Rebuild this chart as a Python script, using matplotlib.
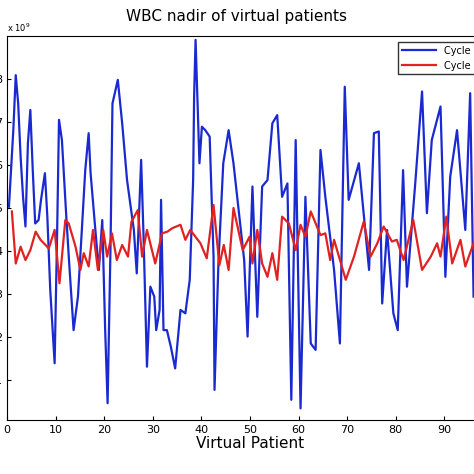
import matplotlib
matplotlib.use("Agg")
import matplotlib.pyplot as plt

blue_x = [0.4,1.3,1.8,2.3,2.8,3.3,3.8,4.3,4.8,5.3,5.8,6.5,7.0,7.8,8.3,8.9,9.8,10.3,10.7,11.3,12.2,12.8,13.7,14.6,15.4,16.1,16.8,17.2,18.3,18.9,19.6,20.2,20.7,21.3,21.7,22.8,23.7,24.7,26.1,26.7,27.6,28.1,
          28.8,29.5,30.3,30.7,31.4,31.7,32.2,32.9,33.7,34.6,35.7,36.7,37.6,38.3,38.5,38.8,39.6,40.1,40.8,41.7,42.5,42.7,43.5,44.5,45.6,46.6,
          48.8,49.5,50.5,51.5,52.5,53.6,54.6,55.6,56.6,57.7,58.5,59.4,60.4,61.4,62.5,63.5,64.5,65.5,67.3,68.5,69.5,70.3,72.4,74.5,75.5,76.5,77.2,78.2,79.5,80.4,81.5,82.3,84.0,85.4,86.4,87.4,89.2,90.2,91.2,92.6,94.3,95.3,96.0]
blue_y = [5.03,6.81,8.09,7.43,6.19,5.26,4.57,6.50,7.28,5.88,4.64,4.72,5.19,5.81,4.80,3.09,1.39,4.33,7.05,6.58,4.80,3.71,2.16,2.94,4.49,5.88,6.74,5.81,4.33,3.56,4.72,2.16,0.46,4.10,7.43,7.98,6.97,5.65,4.49,3.48,6.12,4.33,
          1.31,3.17,2.94,2.16,2.63,5.19,2.16,2.16,1.78,1.27,2.63,2.55,3.33,5.65,7.59,8.91,6.04,6.89,6.81,6.66,3.87,0.77,3.71,6.04,6.81,6.04,
          3.79,2.01,5.50,2.47,5.50,5.65,6.97,7.16,5.26,5.57,0.54,6.58,0.34,5.26,1.85,1.70,6.35,5.26,3.56,1.85,7.82,5.19,6.04,3.56,6.74,6.78,2.78,4.49,2.55,2.16,5.88,3.17,5.57,7.71,4.88,6.58,7.36,3.40,5.73,6.81,4.49,7.67,2.94]

red_x = [1,1.8,2.8,3.8,4.8,5.9,6.9,8.6,9.8,10.8,12,12.7,14.1,15.1,15.8,16.8,17.7,18.7,19.8,20.6,21.6,22.6,23.7,24.9,25.6,26.9,27.8,28.8,30.5,31.9,33,34,35.7,36.7,37.7,39.8,41.1,42.5,43.7,44.6,45.6,46.6,
         48.5,49.9,50.5,51.5,52.5,53.6,54.6,55.6,56.6,58,59.4,60.4,61.4,62.5,64.5,65.5,66.5,67.3,69.7,71.4,73.4,74.8,76.2,77.5,79.2,80.2,81.6,83.6,85.4,87.2,88.5,89.2,90.4,91.6,93.3,94.3,96]
red_y = [4.92,3.71,4.10,3.79,4.02,4.45,4.26,4.06,4.49,3.25,4.72,4.64,4.10,3.56,3.95,3.64,4.49,3.56,4.49,3.87,4.41,3.79,4.14,3.87,4.68,4.95,3.87,4.49,3.71,4.41,4.45,4.53,4.61,4.26,4.49,4.18,3.83,5.07,3.67,4.14,3.56,5.00,
         4.02,4.33,3.71,4.49,3.71,3.40,3.95,3.33,4.80,4.64,4.02,4.61,4.33,4.92,4.37,4.41,3.79,4.26,3.33,3.87,4.68,3.87,4.18,4.57,4.22,4.26,3.79,4.72,3.56,3.87,4.18,3.87,4.80,3.71,4.26,3.64,4.18]

x_ticks = [0, 10, 20, 30, 40, 50, 60, 70, 80, 90, 100]
y_ticks = [1, 2, 3, 4, 5, 6, 7, 8]

fig = plt.figure(figsize=(4.74, 4.74), dpi=100)
ax = fig.add_axes([7/474, 54/474, 486/474, 384/474])
ax.plot(blue_x, blue_y, color="#1a2ad0", lw=1.6, label="Cycle 1")
ax.plot(red_x, red_y, color="#e02222", lw=1.6, label="Cycle 2")
ax.set_xlim(0, 100)
ax.set_ylim(0.07, 9.0)
ax.set_xticks(x_ticks)
ax.set_yticks(y_ticks)
ax.tick_params(direction="in", labelsize=8, length=3)
ax.set_xlabel("Virtual Patient", fontsize=11, labelpad=1)
ax.text(0.0, 1.005, r"x 10$^9$", transform=ax.transAxes, fontsize=6, ha="left", va="bottom")
fig.text(237/474, 1 - 17/474, "WBC nadir of virtual patients", ha="center", va="center", fontsize=11)
ax.legend(loc="upper left", bbox_to_anchor=(0.805, 0.985), fontsize=7, frameon=True,
          fancybox=False, edgecolor="black", handlelength=3.5, borderaxespad=0)
fig.savefig("out.png", dpi=100)
